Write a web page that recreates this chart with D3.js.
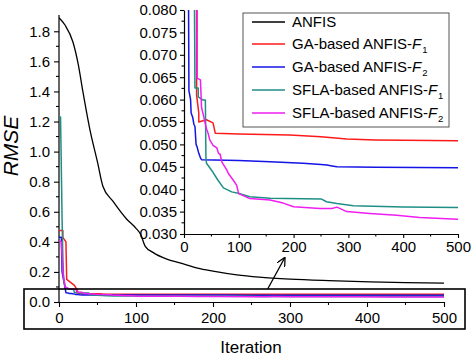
<!DOCTYPE html>
<html>
<head>
<meta charset="utf-8">
<script src="https://cdn.jsdelivr.net/npm/d3@7"></script>
<style>
  html, body { margin: 0; padding: 0; background: #fff; }
  svg { display: block; font-family: "Liberation Sans", Arial, sans-serif; }
</style>
</head>
<body>
<svg id="chart" width="474" height="356"></svg>
<script>
// ---------------- DATA ----------------
const seriesNames = ["ANFIS", "GA-based ANFIS-", "GA-based ANFIS-", "SFLA-based ANFIS-", "SFLA-based ANFIS-"];
const seriesSubs  = [null, "1", "2", "1", "2"];
const seriesColors = ["#000000", "#ff1a1a", "#1414e6", "#1f8f86", "#f01ef0"];

const anfisIter = [0, 8, 18, 25, 31, 40, 50, 57, 70, 88, 100, 106, 112, 122, 140, 157, 180, 200, 231, 260, 300, 350, 404, 450, 500];
const anfisRMSE = [1.89, 1.84, 1.73, 1.58, 1.40, 1.15, 0.93, 0.77, 0.67, 0.55, 0.49, 0.45, 0.37, 0.33, 0.285, 0.26, 0.225, 0.205, 0.18, 0.165, 0.152, 0.142, 0.134, 0.129, 0.126];

const gaF1Iter = [0, 5, 5, 9, 10, 15, 20, 23, 23, 27, 27, 41, 53, 57, 100, 193, 250, 297, 350, 500];
const gaF1RMSE = [0.475, 0.475, 0.43, 0.40, 0.15, 0.13, 0.11, 0.085, 0.061, 0.057, 0.055, 0.0555, 0.0548, 0.0525, 0.0523, 0.0521, 0.0517, 0.0512, 0.0510, 0.0508];

const gaF2Iter = [0, 3, 4, 8, 9, 12, 13, 16, 18, 20, 22, 24, 27, 30, 32, 100, 157, 217, 250, 261, 270, 279, 350, 500];
const gaF2RMSE = [0.43, 0.43, 0.20, 0.09, 0.062, 0.060, 0.057, 0.056, 0.0545, 0.054, 0.050, 0.0494, 0.048, 0.047, 0.0466, 0.0464, 0.0461, 0.0458, 0.0455, 0.0454, 0.0452, 0.0450, 0.0449, 0.0448];

const sflaF1Iter = [0, 2, 3, 4, 5, 6, 8, 12, 19, 20, 26, 26, 35, 39, 40, 41, 50, 62, 72, 87, 99, 120, 157, 251, 260, 279, 309, 400, 500];
const sflaF1RMSE = [1.23, 1.23, 0.9, 0.55, 0.3, 0.15, 0.1, 0.088, 0.083, 0.0626, 0.0626, 0.0606, 0.0599, 0.0599, 0.047, 0.0458, 0.0443, 0.042, 0.0403, 0.0394, 0.0391, 0.0383, 0.038, 0.0378, 0.0372, 0.0368, 0.0363, 0.036, 0.0359];

const sflaF2Iter = [0, 3, 5, 8, 12, 20, 24, 24, 30, 32, 36, 41, 44, 47, 53, 60, 63, 66, 69, 72, 78, 81, 90, 96, 99, 100, 120, 157, 181, 200, 248, 270, 279, 297, 339, 388, 430, 500];
const sflaF2RMSE = [0.41, 0.40, 0.2, 0.1, 0.09, 0.085, 0.08, 0.0648, 0.0644, 0.0583, 0.0562, 0.0535, 0.0525, 0.051, 0.0498, 0.0492, 0.048, 0.0478, 0.0461, 0.0455, 0.0443, 0.0435, 0.042, 0.0409, 0.0394, 0.039, 0.0379, 0.0376, 0.0369, 0.0361, 0.0357, 0.0357, 0.036, 0.035, 0.0346, 0.0342, 0.0337, 0.0333];

const mainXTicks = [0, 100, 200, 300, 400, 500];
const mainYTicks = [0.0, 0.2, 0.4, 0.6, 0.8, 1.0, 1.2, 1.4, 1.6, 1.8];
const insetXTicks = [0, 100, 200, 300, 400, 500];
const insetYTicks = [0.030, 0.035, 0.040, 0.045, 0.050, 0.055, 0.060, 0.065, 0.070, 0.075, 0.080];

const xLabel = "Iteration";
const yLabel = "RMSE";

// ---------------- BUILD ----------------
const allIters = [anfisIter, gaF1Iter, gaF2Iter, sflaF1Iter, sflaF2Iter];
const allVals  = [anfisRMSE, gaF1RMSE, gaF2RMSE, sflaF1RMSE, sflaF2RMSE];
const series = allIters.map((it, i) => ({
  name: seriesNames[i], sub: seriesSubs[i], color: seriesColors[i],
  points: it.map((x, j) => [x, allVals[i][j]])
}));

const svg = d3.select("#chart");

// main scales
const xMain = d3.scaleLinear().domain([0, 500]).range([59, 444]);
const yMain = d3.scaleLinear().domain([0, 1.9]).range([302, 302 - 1.9 * 150.4]);

// inset scales
const xIn = d3.scaleLinear().domain([0, 500]).range([184, 458]);
const yIn = d3.scaleLinear().domain([0.03, 0.08]).range([234, 10]);

const defs = svg.append("defs");
defs.append("clipPath").attr("id", "clipMain").append("rect")
  .attr("x", xMain(0)).attr("y", 14).attr("width", xMain(500) - xMain(0)).attr("height", yMain(0) - 14);
defs.append("clipPath").attr("id", "clipIn").append("rect")
  .attr("x", xIn(0)).attr("y", yIn(0.08)).attr("width", xIn(500) - xIn(0)).attr("height", yIn(0.03) - yIn(0.08));

// marker for arrow
defs.append("marker").attr("id", "arrowHead")
  .attr("viewBox", "0 0 10 10").attr("refX", 9).attr("refY", 5)
  .attr("markerWidth", 9).attr("markerHeight", 9).attr("markerUnits", "userSpaceOnUse")
  .attr("orient", "auto")
  .append("path").attr("d", "M0,0 L10,5 L0,10").attr("fill", "none").attr("stroke", "#000").attr("stroke-width", 1.4);

function styleAxis(g, fontSize) {
  g.select(".domain").attr("stroke", "#000").attr("stroke-width", 1.2);
  g.selectAll(".tick line").attr("stroke", "#000").attr("stroke-width", 1.1);
  g.selectAll(".tick text").attr("fill", "#000").attr("font-size", fontSize).attr("font-family", "Liberation Sans, Arial, sans-serif");
}
function minorTicks(g, scale, vals, orient, len) {
  vals.forEach(v => {
    if (orient === "bottom") {
      g.append("line").attr("x1", scale(v)).attr("x2", scale(v)).attr("y1", 0).attr("y2", len).attr("stroke", "#000").attr("stroke-width", 1.1);
    } else {
      g.append("line").attr("y1", scale(v)).attr("y2", scale(v)).attr("x1", 0).attr("x2", -len).attr("stroke", "#000").attr("stroke-width", 1.1);
    }
  });
}

// ---- main axes ----
const gxMain = svg.append("g").attr("transform", `translate(0,${yMain(0)})`)
  .call(d3.axisBottom(xMain).tickValues(mainXTicks).tickSize(5).tickPadding(5).tickSizeOuter(0).tickFormat(d3.format("d")));
styleAxis(gxMain, 15);
minorTicks(gxMain, xMain, [50, 150, 250, 350, 450], "bottom", 3);

const gyMain = svg.append("g").attr("transform", `translate(${xMain(0)},0)`)
  .call(d3.axisLeft(yMain).tickValues(mainYTicks).tickSize(5).tickPadding(4).tickSizeOuter(0).tickFormat(d3.format(".1f")));
styleAxis(gyMain, 15);
gyMain.select(".domain").attr("d", `M0,${yMain(0)}V15`);
minorTicks(gyMain, yMain, [0.1, 0.3, 0.5, 0.7, 0.9, 1.1, 1.3, 1.5, 1.7], "left", 3);

// ---- main lines ----
const lineMain = d3.line().x(d => xMain(d[0])).y(d => yMain(d[1]));
const gMain = svg.append("g").attr("clip-path", "url(#clipMain)");
series.forEach((s, i) => {
  gMain.append("path").datum(s.points)
    .attr("fill", "none").attr("stroke", s.color).attr("stroke-width", i === 0 ? 1.3 : 1.5)
    .attr("stroke-linejoin", "round")
    .attr("d", i === 0 ? lineMain.curve(d3.curveMonotoneX)(s.points) : d3.line().x(d => xMain(d[0])).y(d => yMain(d[1]))(s.points));
});

// ---- inset axes ----
const gxIn = svg.append("g").attr("transform", `translate(0,${yIn(0.03)})`)
  .call(d3.axisBottom(xIn).tickValues(insetXTicks).tickSize(4).tickPadding(3).tickSizeOuter(0).tickFormat(d3.format("d")));
styleAxis(gxIn, 15);
minorTicks(gxIn, xIn, [50, 150, 250, 350, 450], "bottom", 2.5);

const gyIn = svg.append("g").attr("transform", `translate(${xIn(0)},0)`)
  .call(d3.axisLeft(yIn).tickValues(insetYTicks).tickSize(4).tickPadding(3).tickSizeOuter(0).tickFormat(d3.format(".3f")));
styleAxis(gyIn, 15);
minorTicks(gyIn, yIn, d3.range(10).map(k => 0.0325 + k * 0.005), "left", 2.5);

// ---- inset lines ----
const lineIn = d3.line().x(d => xIn(d[0])).y(d => yIn(d[1]));
const gIn = svg.append("g").attr("clip-path", "url(#clipIn)");
series.slice(1).forEach(s => {
  gIn.append("path").datum(s.points)
    .attr("fill", "none").attr("stroke", s.color).attr("stroke-width", 1.5)
    .attr("stroke-linejoin", "round").attr("d", lineIn);
});

// ---- zoom box and arrow ----
svg.append("rect").attr("x", 24).attr("y", 289).attr("width", 441).attr("height", 40)
  .attr("fill", "none").attr("stroke", "#000").attr("stroke-width", 1.6);
svg.append("line").attr("x1", xMain(271)).attr("y1", 289).attr("x2", xMain(293)).attr("y2", 258)
  .attr("stroke", "#000").attr("stroke-width", 1.3).attr("marker-end", "url(#arrowHead)");

// ---- legend ----
const legend = svg.append("g");
legend.append("rect").attr("x", 243).attr("y", 13).attr("width", 206).attr("height", 114)
  .attr("fill", "#fff").attr("stroke", "#555").attr("stroke-width", 1);
const rowY = [22, 44, 67, 90, 113];
series.forEach((s, i) => {
  legend.append("line").attr("x1", 252).attr("x2", 285).attr("y1", rowY[i]).attr("y2", rowY[i])
    .attr("stroke", s.color).attr("stroke-width", 1.5);
  const t = legend.append("text").attr("x", 292).attr("y", rowY[i] + 5.3)
    .attr("font-size", 15).attr("fill", "#000");
  t.append("tspan").text(s.name);
  if (s.sub) {
    t.append("tspan").attr("font-style", "italic").text("F");
    t.append("tspan").attr("font-size", 9.5).attr("dy", 4).attr("dx", 1).text(s.sub);
  }
});

// ---- axis titles ----
svg.append("text").attr("transform", "translate(18,146) rotate(-90)")
  .attr("text-anchor", "middle").attr("font-size", 21).attr("font-style", "italic").attr("fill", "#000").text(yLabel);
svg.append("text").attr("x", 251).attr("y", 353)
  .attr("text-anchor", "middle").attr("font-size", 17).attr("fill", "#000").text(xLabel);
</script>
</body>
</html>
